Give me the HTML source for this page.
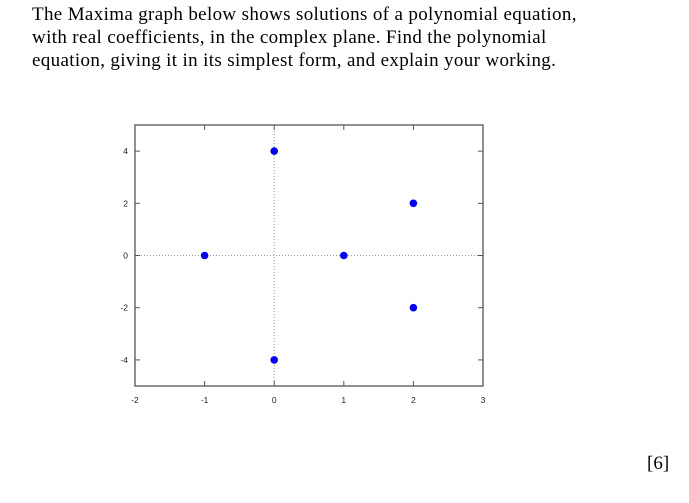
<!DOCTYPE html>
<html><head><meta charset="utf-8"><style>
body{margin:0;width:689px;height:503px;background:#fff;position:relative;overflow:hidden;font-family:"Liberation Serif",serif;}
#q{position:absolute;left:32px;top:3px;font-size:19px;letter-spacing:0.35px;line-height:23px;color:#000;white-space:nowrap;}
#m{position:absolute;left:647px;top:453px;font-size:19px;}
svg{position:absolute;left:0;top:0;}
</style></head><body>
<div id="q">The Maxima graph below shows solutions of a polynomial equation,<br>with real coefficients, in the complex plane. Find the polynomial<br>equation, giving it in its simplest form, and explain your working.</div>
<div id="m">[6]</div>
<svg id="c" width="689" height="503"></svg>
<script>
const re=[-1,0,0,1,2,2];
const im=[0,4,-4,0,2,-2];
const xTicks=[-2,-1,0,1,2,3];
const yTicks=[-4,-2,0,2,4];
const L=135,R=483,T=125,B=386,xmin=-2,xmax=3,ymin=-5,ymax=5;
const X=v=>L+(v-xmin)/(xmax-xmin)*(R-L);
const Y=v=>B-(v-ymin)/(ymax-ymin)*(B-T);
const s=document.getElementById('c');const NS='http://www.w3.org/2000/svg';
function mk(t,a,name){const e=document.createElementNS(NS,t);for(const k in a)e.setAttribute(k,a[k]);


s.appendChild(e);return e;}
mk('line',{x1:L,x2:R,y1:Y(0),y2:Y(0),stroke:'#999','stroke-dasharray':'1,2','stroke-width':1},'real-axis');
mk('line',{x1:X(0),x2:X(0),y1:T,y2:B,stroke:'#999','stroke-dasharray':'1,2','stroke-width':1},'imaginary-axis');
mk('rect',{x:L,y:T,width:R-L,height:B-T,fill:'none',stroke:'#555','stroke-width':1.3},'plot-frame');
xTicks.forEach(v=>{const x=X(v);
mk('line',{x1:x,x2:x,y1:B,y2:B-5,stroke:'#555'},'x-tick');
mk('line',{x1:x,x2:x,y1:T,y2:T+5,stroke:'#555'},'x-tick-top');
const t=mk('text',{x:x,y:B+17,'font-size':8.5,'font-family':'Liberation Sans,sans-serif','text-anchor':'middle',fill:'#222'},'x-tick-label');t.textContent=v;});
yTicks.forEach(v=>{const y=Y(v);
mk('line',{x1:L,x2:L+5,y1:y,y2:y,stroke:'#555'},'y-tick');
mk('line',{x1:R,x2:R-5,y1:y,y2:y,stroke:'#555'},'y-tick-right');
const t=mk('text',{x:L-7,y:y+3,'font-size':8.5,'font-family':'Liberation Sans,sans-serif','text-anchor':'end',fill:'#222'},'y-tick-label');t.textContent=v;});
re.forEach((r,i)=>mk('circle',{cx:X(r),cy:Y(im[i]),r:3.8,fill:'#0000ee'},'root-point'));
</script>
</body></html>
